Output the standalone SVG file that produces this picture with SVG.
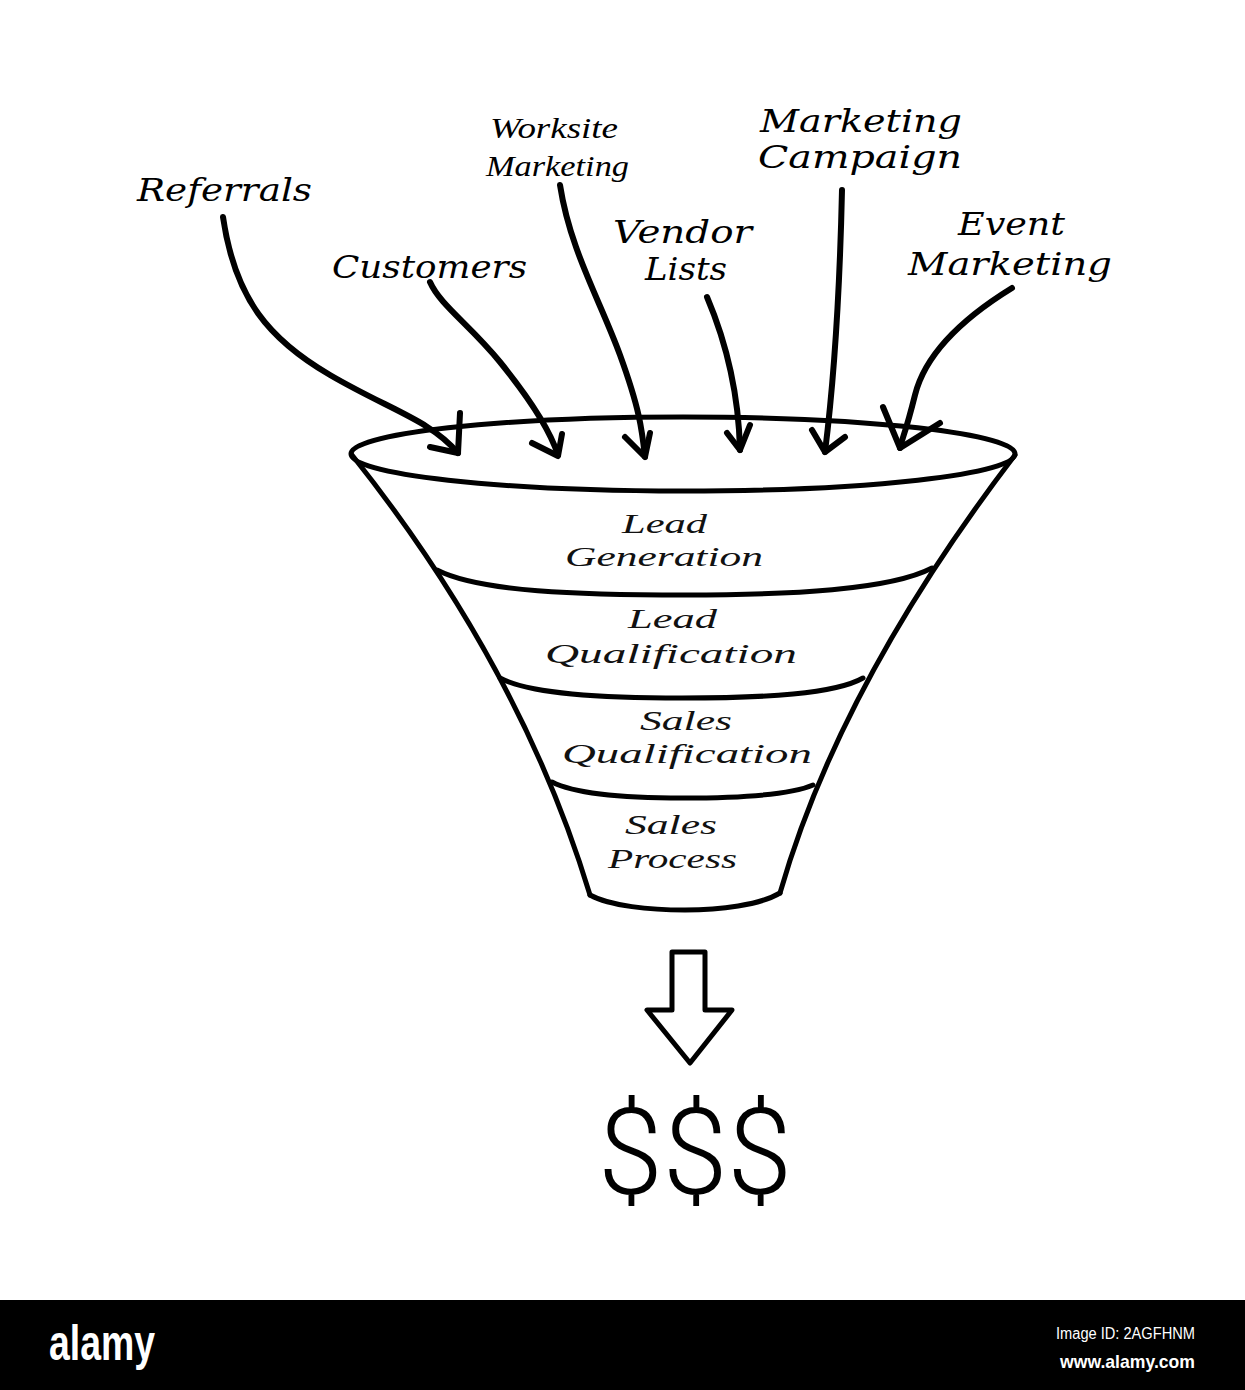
<svg xmlns="http://www.w3.org/2000/svg" width="1245" height="1390" viewBox="0 0 1245 1390">
  <style>
    .hand { font-family: "DejaVu Serif", "Liberation Serif", serif; font-style: italic; font-size: 32px; fill: #000; }
    .serif { font-family: "Liberation Serif", "DejaVu Serif", serif; font-style: italic; font-size: 29px; fill: #000; }
    .stage { font-family: "Liberation Serif", "DejaVu Serif", serif; font-style: italic; font-size: 28px; fill: #111; }
    .outline { fill: none; stroke: #000; stroke-width: 5; stroke-linecap: round; stroke-linejoin: round; }
    .arrow { fill: none; stroke: #000; stroke-width: 6; stroke-linecap: round; stroke-linejoin: round; }
    .money { font-family: "Roboto", "Lato", "Open Sans", "DejaVu Sans", sans-serif; font-size: 120px; font-weight: 300; fill: #000; }
  </style>
  <rect x="0" y="0" width="1245" height="1390" fill="#fff"/>

  <!-- Funnel outline -->
  <g id="funnel">
    <ellipse class="outline" cx="683" cy="454" rx="332" ry="37"/>
    <path class="outline" d="M352,455 Q521,667 590,895"/>
    <path class="outline" d="M1015,455 Q840,684 780,893"/>
    <path class="outline" d="M437,570 C480,592 580,595 685,595 C790,595 890,590 932,568"/>
    <path class="outline" d="M500,678 C530,694 600,698 682,698 C765,698 835,694 863,678"/>
    <path class="outline" d="M552,782 C575,794 630,798 683,798 C735,798 790,795 813,785"/>
    <path class="outline" d="M590,895 C610,906 650,910 685,910 C720,910 760,905 780,893"/>
  </g>

  <!-- Source labels -->
  <g id="referrals"><text class="hand" x="137" y="201" textLength="175" lengthAdjust="spacingAndGlyphs">Referrals</text></g>
  <g id="customers"><text class="hand" x="332" y="278" textLength="195" lengthAdjust="spacingAndGlyphs">Customers</text></g>
  <g id="worksite-marketing">
    <text class="serif" x="490" y="138" textLength="128" lengthAdjust="spacingAndGlyphs">Worksite</text>
    <text class="serif" x="486" y="176" textLength="143" lengthAdjust="spacingAndGlyphs">Marketing</text>
  </g>
  <g id="vendor-lists">
    <text class="hand" x="613" y="243" textLength="139" lengthAdjust="spacingAndGlyphs">Vendor</text>
    <text class="hand" x="645" y="280" textLength="82" lengthAdjust="spacingAndGlyphs">Lists</text>
  </g>
  <g id="marketing-campaign">
    <text class="hand" x="760" y="132" textLength="202" lengthAdjust="spacingAndGlyphs">Marketing</text>
    <text class="hand" x="758" y="168" textLength="204" lengthAdjust="spacingAndGlyphs">Campaign</text>
  </g>
  <g id="event-marketing">
    <text class="hand" x="958" y="235" textLength="107" lengthAdjust="spacingAndGlyphs">Event</text>
    <text class="hand" x="908" y="275" textLength="204" lengthAdjust="spacingAndGlyphs">Marketing</text>
  </g>

  <!-- Funnel stages -->
  <g id="lead-generation">
    <text class="stage" x="622" y="533" textLength="85" lengthAdjust="spacingAndGlyphs">Lead</text>
    <text class="stage" x="565" y="566" textLength="198" lengthAdjust="spacingAndGlyphs">Generation</text>
  </g>
  <g id="lead-qualification">
    <text class="stage" x="628" y="628" textLength="89" lengthAdjust="spacingAndGlyphs">Lead</text>
    <text class="stage" x="545" y="663" textLength="252" lengthAdjust="spacingAndGlyphs">Qualification</text>
  </g>
  <g id="sales-qualification">
    <text class="stage" x="640" y="730" textLength="92" lengthAdjust="spacingAndGlyphs">Sales</text>
    <text class="stage" x="562" y="763" textLength="250" lengthAdjust="spacingAndGlyphs">Qualification</text>
  </g>
  <g id="sales-process">
    <text class="stage" x="625" y="834" textLength="92" lengthAdjust="spacingAndGlyphs">Sales</text>
    <text class="stage" x="608" y="868" textLength="129" lengthAdjust="spacingAndGlyphs">Process</text>
  </g>

  <!-- Output -->
  <g id="money"><text class="money" x="598" y="1194" textLength="194" lengthAdjust="spacingAndGlyphs">$$$</text></g>

  <!-- Connectors -->
  <g id="connectors">
    <path class="arrow" d="M223,217 C235,300 270,340 330,375 S430,420 458,453"/>
    <path class="arrow" d="M460,413 L458,453 L430,447"/>
    <path class="arrow" d="M430,282 C440,305 470,325 500,362 S550,430 558,455"/>
    <path class="arrow" d="M532,443 L558,456 L562,434"/>
    <path class="arrow" d="M560,185 C570,250 600,300 620,355 S642,430 645,457"/>
    <path class="arrow" d="M625,437 L645,457 L650,433"/>
    <path class="arrow" d="M707,297 Q738,370 740,450"/>
    <path class="arrow" d="M727,433 L740,450 L750,425"/>
    <path class="arrow" d="M842,190 C840,280 834,380 825,452"/>
    <path class="arrow" d="M812,430 L825,452 L845,437"/>
    <path class="arrow" d="M1012,288 C960,320 925,355 915,395 S903,435 900,448"/>
    <path class="arrow" d="M883,407 L900,448 L940,423"/>
    <path class="outline" d="M672,952 L705,952 L705,1010 L732,1010 L690,1063 L647,1010 L672,1010 Z" fill="#fff"/>
  </g>

  <!-- Footer bar -->
  <g id="footer">
    <rect x="0" y="1300" width="1245" height="90" fill="#000"/>
    <text x="49" y="1360" font-family="Liberation Sans, sans-serif" font-weight="bold" font-size="50" fill="#fff" textLength="106" lengthAdjust="spacingAndGlyphs">alamy</text>
    <text x="1195" y="1339" text-anchor="end" font-family="Liberation Sans, sans-serif" font-size="16" fill="#fff" textLength="139" lengthAdjust="spacingAndGlyphs">Image ID: 2AGFHNM</text>
    <text x="1195" y="1368" text-anchor="end" font-family="Liberation Sans, sans-serif" font-weight="bold" font-size="19" fill="#fff" textLength="135" lengthAdjust="spacingAndGlyphs">www.alamy.com</text>
  </g>
</svg>
